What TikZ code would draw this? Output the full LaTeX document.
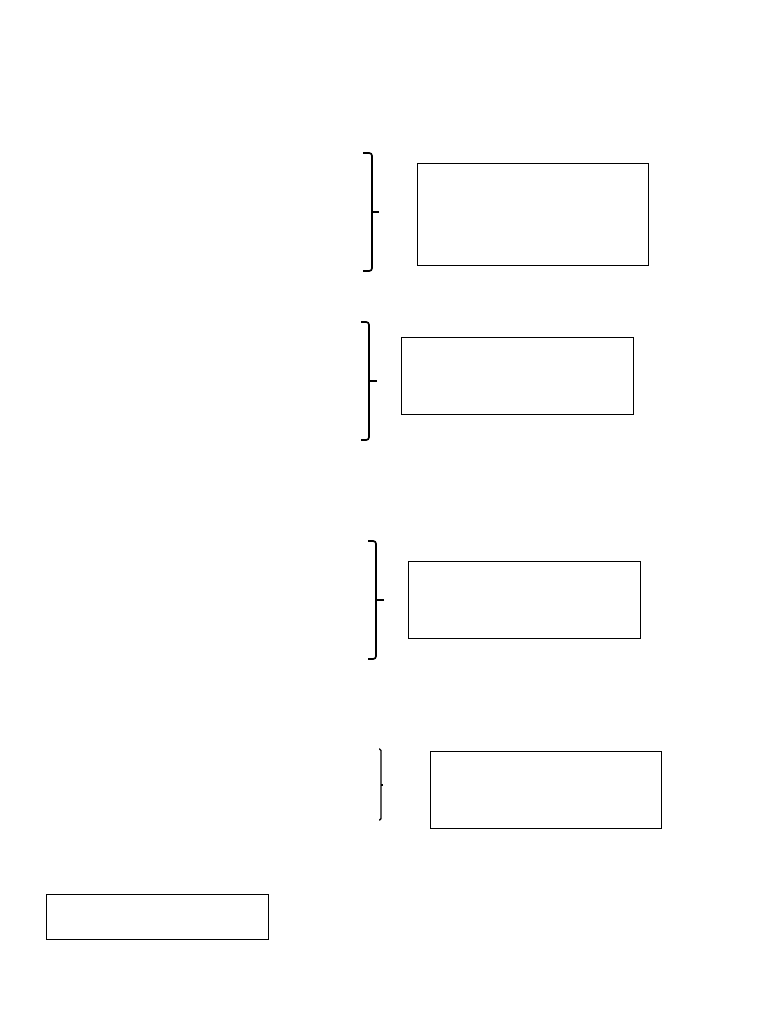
\documentclass[tikz,border=0pt]{standalone}
\usepackage{tikz}
\usetikzlibrary{shapes,arrows}
\usetikzlibrary{positioning}
\tikzstyle{block} = [rectangle, draw, inner sep=0pt, outer sep=0pt,
    minimum height=1.925cm, minimum width=5.8cm, line width=0.5pt]
\tikzstyle{bracket} = [draw, rounded corners=2pt, line width=1.2pt]
\tikzstyle{smallbracket} = [draw, rounded corners=1pt, line width=0.9pt]

\begin{document}
\begin{tikzpicture}[x=0.025cm, y=-0.025cm]
  \useasboundingbox (0,0) rectangle (768,1024);
  % Place nodes
  \node [block, minimum height=2.55cm, minimum width=5.775cm] (b1) at (532.5,214) {};
  \node [block] (b2) at (517,375.5) {};
  \node [block] (b3) at (524,599.5) {};
  \node [block, minimum width=5.775cm] (b4) at (545.5,789.5) {};
  \node [block, minimum height=1.125cm, minimum width=5.55cm] (b5) at (157,916.5) {};

  % Braces
  \coordinate (t1) at (363,153);
  \coordinate (u1) at (363,271);
  \coordinate (m1) at (379,212);
  \coordinate (t2) at (361,322);
  \coordinate (u2) at (361,440);
  \coordinate (m2) at (377,381);
  \coordinate (t3) at (368,541);
  \coordinate (u3) at (368,659);
  \coordinate (m3) at (384,600);
  \coordinate (t4) at (379,749);
  \coordinate (u4) at (379,820);
  \coordinate (m4) at (383,785);

  \path [bracket] (t1) -- ++(9,0) -- ++(0,118) -- (u1);
  \path [bracket] (m1) -- ++(-7,0);
  \path [bracket] (t2) -- ++(8,0) -- ++(0,118) -- (u2);
  \path [bracket] (m2) -- ++(-8,0);
  \path [bracket] (t3) -- ++(8,0) -- ++(0,118) -- (u3);
  \path [bracket] (m3) -- ++(-8,0);
  \path [smallbracket] (t4) -- ++(2,0) -- ++(0,71) -- (u4);
  \path [smallbracket] (m4) -- ++(-2,0);

\end{tikzpicture}
\end{document}
